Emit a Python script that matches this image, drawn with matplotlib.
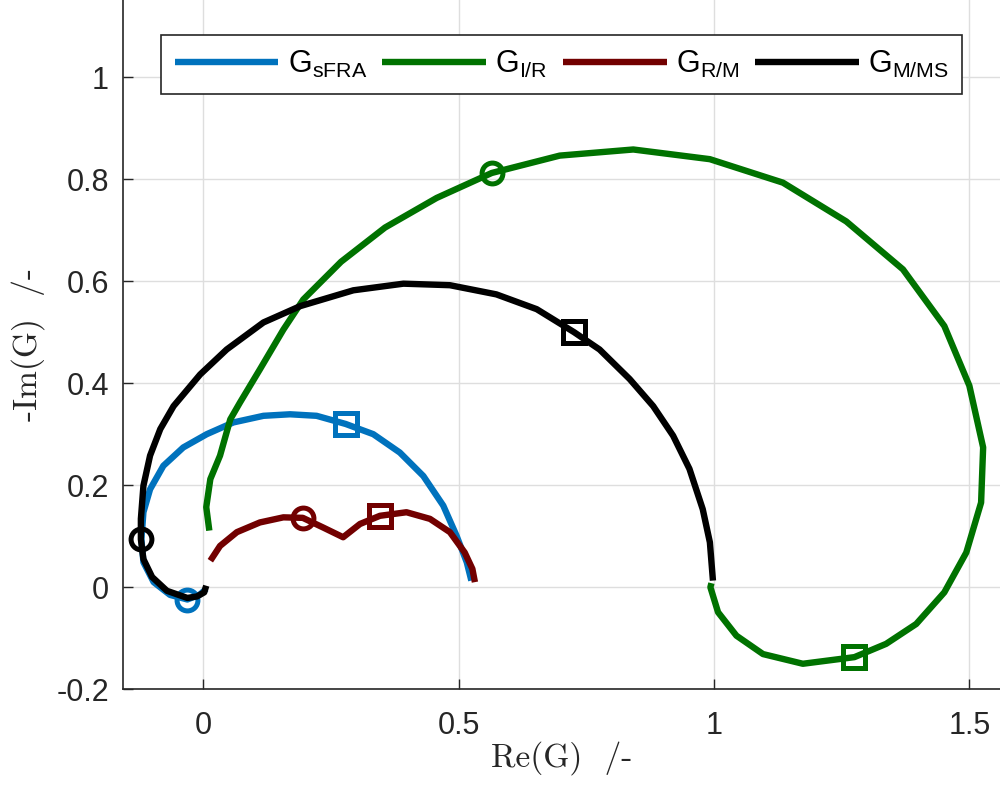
import matplotlib
matplotlib.use('Agg')
import matplotlib.pyplot as plt

# G_sFRA
sfra_re = [0.006, -0.006, -0.031, -0.065, -0.097, -0.117, -0.121, -0.117, -0.104, -0.078,
           -0.039, 0.007, 0.059, 0.118, 0.170, 0.222, 0.279, 0.333, 0.385, 0.431,
           0.470, 0.496, 0.516, 0.525]
sfra_im = [-0.003, -0.014, -0.024, -0.015, 0.010, 0.049, 0.094, 0.147, 0.192, 0.238,
           0.274, 0.300, 0.323, 0.336, 0.339, 0.336, 0.320, 0.300, 0.264, 0.218,
           0.160, 0.101, 0.049, 0.013]
sfra_circ = (-0.031, -0.025)
sfra_sq = (0.279, 0.320)

# G_I/R
ir_re = [0.012, 0.006, 0.014, 0.033, 0.053, 0.072, 0.111, 0.157, 0.196, 0.270,
         0.356, 0.457, 0.565, 0.698, 0.842, 0.992, 1.135, 1.259, 1.370, 1.451,
         1.500, 1.527, 1.523, 1.494, 1.451, 1.396, 1.337, 1.275, 1.174, 1.096,
         1.044, 1.008, 0.993, 0.995]
ir_im = [0.111, 0.157, 0.212, 0.258, 0.329, 0.362, 0.427, 0.505, 0.564, 0.638,
         0.705, 0.763, 0.812, 0.846, 0.858, 0.839, 0.793, 0.717, 0.623, 0.512,
         0.395, 0.274, 0.166, 0.068, -0.010, -0.072, -0.111, -0.137, -0.150, -0.131,
         -0.095, -0.049, 0.000, 0.008]
ir_circ = (0.565, 0.812)
ir_sq = (1.275, -0.137)

# G_R/M
rm_re = [0.014, 0.033, 0.066, 0.111, 0.157, 0.195, 0.235, 0.274, 0.307, 0.346,
         0.398, 0.444, 0.483, 0.512, 0.527, 0.532]
rm_im = [0.052, 0.081, 0.108, 0.127, 0.137, 0.136, 0.117, 0.098, 0.124, 0.140,
         0.147, 0.134, 0.108, 0.068, 0.036, 0.010]
rm_circ = (0.195, 0.136)
rm_sq = (0.346, 0.140)

# G_M/MS
mms_re = [0.006, 0.002, -0.012, -0.031, -0.071, -0.100, -0.117, -0.122, -0.122, -0.117,
          -0.104, -0.084, -0.058, -0.006, 0.046, 0.118, 0.190, 0.294, 0.392, 0.483,
          0.574, 0.653, 0.726, 0.776, 0.835, 0.881, 0.920, 0.952, 0.978, 0.992, 0.998]
mms_im = [0.003, -0.010, -0.018, -0.021, -0.007, 0.020, 0.055, 0.094, 0.134, 0.199,
          0.258, 0.310, 0.355, 0.417, 0.466, 0.519, 0.551, 0.582, 0.595, 0.592,
          0.574, 0.545, 0.500, 0.466, 0.408, 0.355, 0.297, 0.232, 0.153, 0.088, 0.013]
mms_circ = (-0.122, 0.094)
mms_sq = (0.726, 0.500)

series = [
    (r'G$_{\mathregular{sFRA}}$', sfra_re, sfra_im, sfra_circ, sfra_sq, '#0072BD'),
    (r'G$_{\mathregular{I/R}}$', ir_re, ir_im, ir_circ, ir_sq, '#007200'),
    (r'G$_{\mathregular{R/M}}$', rm_re, rm_im, rm_circ, rm_sq, '#720000'),
    (r'G$_{\mathregular{M/MS}}$', mms_re, mms_im, mms_circ, mms_sq, '#000000'),
]

plt.rcParams['font.family'] = ['Liberation Sans', 'DejaVu Sans']
plt.rcParams['axes.unicode_minus'] = False
axcol = '#262626'

fig = plt.figure(figsize=(10, 7.9), dpi=100)
ax = fig.add_axes([0.123, 0.1275, 0.877, 0.8725])

for label, re, im, circ, sq, col in series:
    ax.plot(re, im, color=col, lw=4.6, label=label, solid_capstyle='butt',
            solid_joinstyle='round')
    ax.plot(circ[0], circ[1], 'o', ms=15, mfc='none', mec=col, mew=3.6)
    ax.plot(sq[0], sq[1], 's', ms=16, mfc='none', mec=col, mew=3.6)

ax.set_xlim(-0.157, 1.56)
ax.set_ylim(-0.2, 1.151)
ax.set_xticks([0, 0.5, 1, 1.5])
ax.set_xticklabels(['0', '0.5', '1', '1.5'])
ax.set_yticks([-0.2, 0, 0.2, 0.4, 0.6, 0.8, 1])
ax.set_yticklabels(['-0.2', '0', '0.2', '0.4', '0.6', '0.8', '1'])
ax.grid(True, color='#dedede', lw=1.0)
ax.set_axisbelow(True)

for s in ['top', 'right']:
    ax.spines[s].set_visible(False)
for s in ['left', 'bottom']:
    ax.spines[s].set_color(axcol)
    ax.spines[s].set_linewidth(1.2)

ax.tick_params(axis='both', direction='in', length=7, width=1.0, colors=axcol,
               labelsize=22, labelcolor=axcol)
ax.tick_params(axis='x', pad=16)
ax.tick_params(axis='y', pad=10)

ax.set_xlabel('Re(G)  /-', fontfamily='cmr10', fontsize=24, color=axcol, labelpad=0)
ax.set_ylabel('-Im(G)  /-', fontfamily='cmr10', fontsize=24, color=axcol, labelpad=8)

leg = ax.legend(loc='upper center', bbox_to_anchor=(0.5, 0.949), ncol=4, fontsize=22,
                handlelength=3.4, handletextpad=0.3, columnspacing=0.5,
                borderpad=0.45, borderaxespad=0, fancybox=False, framealpha=1,
                edgecolor=axcol)
leg.get_frame().set_linewidth(1.2)

plt.savefig('out.png', dpi=100)
